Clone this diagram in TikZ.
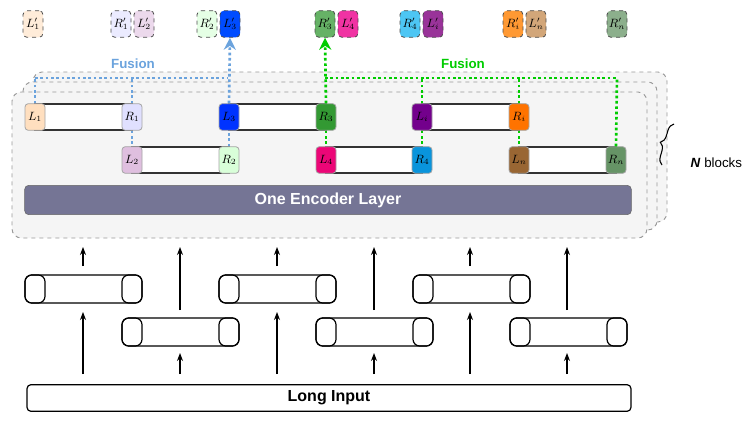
\documentclass[tikz,border=0pt]{standalone}
\usepackage{fontspec}
\newfontfamily\sans{Liberation Sans}
\usetikzlibrary{arrows.meta,decorations.pathreplacing}
\begin{document}
\begin{tikzpicture}[x=0.75pt,y=-0.75pt,
 tok/.style={draw=black!35,fill=#1,rounded corners=2.5pt,minimum width=15pt,minimum height=20pt,inner sep=0pt,line width=0.6pt,font=\small},
 ptok/.style={draw=black!70,dashed,fill=#1,rounded corners=3pt,minimum width=15pt,minimum height=20pt,inner sep=0pt,line width=0.6pt,font=\small},
 layer/.style={draw=gray!80,dashed,fill=gray!8,rounded corners=7pt,line width=0.7pt},
 bar/.style={draw=black!80,line width=1pt},
 ar/.style={-{Stealth[length=6pt,width=4.5pt]},line width=0.9pt},
 fb/.style={dotted,line width=2pt,draw=cyan!60!blue!60},
 fg/.style={dotted,line width=2pt,draw=green!80!black},
 capsule/.style={draw,rounded corners=5pt,line width=0.9pt}]
\useasboundingbox (0,0) rectangle (743,446);
% layers
\draw[layer] (33,72) rectangle (667,222);
\draw[layer] (23,82) rectangle (657,230);
\draw[layer] (12,92) rectangle (647,238);
% fusion lines
\draw[fb] (35,78) -- (228,78);
\draw[fg] (325,78) -- (617,78);
\node[text=cyan!60!blue!60,font=\sans\bfseries] at (133,64) {Fusion};
\node[text=green!80!black,font=\sans\bfseries] at (463,64) {Fusion};
% bars
\foreach \a/\b/\y in {35/132/117,229/326/117,422/519/117,132/229/160,326/422/160,519/616/160}{
 \filldraw[fill=white,bar] (\a,\y-13) rectangle (\b,\y+13);}
% tokens
\node[tok=orange!25] (L1) at (35,117) {$L_1$};
\node[tok=blue!12] (R1) at (132,117) {$R_1$};
\node[tok=blue!80!cyan] (L3) at (229,117) {$L_3$};
\node[tok=green!50!black!80] (R3) at (326,117) {$R_3$};
\node[tok=violet!90!blue] (Li) at (422,117) {$L_i$};
\node[tok=orange!90!red] (Ri) at (519,117) {$R_i$};
\node[tok=violet!25] (L2) at (132,160) {$L_2$};
\node[tok=green!15] (R2) at (229,160) {$R_2$};
\node[tok=magenta!80!red] (L4) at (326,160) {$L_4$};
\node[tok=cyan!80!blue] (R4) at (422,160) {$R_4$};
\node[tok=brown!80!black] (Ln) at (519,160) {$L_n$};
\node[tok=green!30!black!60] (Rn) at (616,160) {$R_n$};
% primes
\node[ptok=orange!15] (pL1) at (33,24) {$L'_1$};
\node[ptok=blue!8] (pR1) at (121,24) {$R'_1$};
\node[ptok=violet!15] (pL2) at (144,24) {$L'_2$};
\node[ptok=green!10] (pR2) at (207,24) {$R'_2$};
\node[ptok=blue!70!cyan] (pL3) at (230,24) {$L'_3$};
\node[ptok=green!50!black!60] (pR3) at (325,24) {$R'_3$};
\node[ptok=magenta!80] (pL4) at (348,24) {$L'_4$};
\node[ptok=cyan!70] (pR4) at (410,24) {$R'_4$};
\node[ptok=violet!80] (pLi) at (433,24) {$L'_i$};
\node[ptok=orange!80] (pRi) at (513,24) {$R'_i$};
\node[ptok=brown!70] (pLn) at (536,24) {$L'_n$};
\node[ptok=green!30!black!45] (pRn) at (617,24) {$R'_n$};
% fusion verticals
\draw[fb] (L1.north) -- (35,78);
\draw[fb] (R1.north) -- (132,78);
\draw[fb] (R1.south) -- (L2.north);
\draw[fb] (R2.north) -- (L3.south);
\draw[fb,-{Stealth[length=9pt,width=9pt]}] (L3.north) -- (pL3.south);
\draw[fg] (R3.south) -- (L4.north);
\draw[fg,-{Stealth[length=9pt,width=9pt]}] (R3.north) -- (pR3.south);
\draw[fg] (Li.north) -- (422,78);
\draw[fg] (Li.south) -- (R4.north);
\draw[fg] (Ri.north) -- (519,78);
\draw[fg] (Ri.south) -- (Ln.north);
\draw[fg] (Rn.north) -- (617,78);
% encoder
\node[draw=black!60,fill=black!30!blue!20!gray!90,rounded corners=3pt,minimum width=455pt,minimum height=22pt,text=white,font=\sans\bfseries\large] (enc) at (328,200) {One Encoder Layer};
% brace
\draw[line width=0.8pt,decorate,decoration={brace,amplitude=6pt}] (662,165) -- (674,124);
\node[anchor=west,font=\sans] (nb) at (686,163) {\textbf{\textit{N}} blocks};
% capsules
\foreach \x/\y in {25/275,219/275,413/275,122/318,316/318,510/318}{
 \draw[capsule,fill=white] (\x,\y) rectangle (\x+117,\y+28);
 \draw[capsule] (\x,\y) rectangle (\x+20,\y+28);
 \draw[capsule] (\x+97,\y) rectangle (\x+117,\y+28);}
\node[draw,rounded corners=3pt,line width=0.9pt,minimum width=453pt,minimum height=20pt,font=\sans\bfseries\large] (inp) at (329,398) {Long Input};
% arrows
\foreach \x in {83,277,470}{
 \draw[ar] (\x,266) -- (\x,247);
 \draw[ar] (\x,374) -- (\x,312);}
\foreach \x in {180,374,567}{
 \draw[ar] (\x,310) -- (\x,247);
 \draw[ar] (\x,374) -- (\x,353);}
\end{tikzpicture}
\end{document}
